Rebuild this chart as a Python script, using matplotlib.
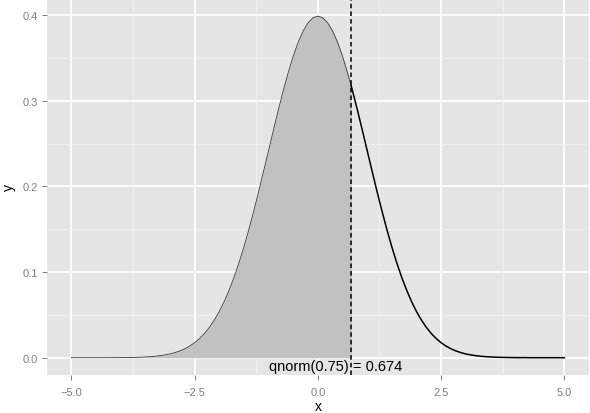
import matplotlib
matplotlib.use("Agg")
import matplotlib.pyplot as plt
import numpy as np

plt.rcParams['font.family'] = ['Liberation Sans', 'DejaVu Sans']

# density values, x from -5 to 5 in steps of 0.1
x_vals = np.round(np.linspace(-5, 5, 101), 1)
y_vals = [
    0.0000, 0.0000, 0.0000, 0.0000, 0.0000, 0.0000, 0.0000, 0.0000, 0.0001, 0.0001,
    0.0001, 0.0002, 0.0003, 0.0004, 0.0006, 0.0009, 0.0012, 0.0017, 0.0024, 0.0033,
    0.0044, 0.0060, 0.0079, 0.0104, 0.0136, 0.0175, 0.0224, 0.0283, 0.0355, 0.0440,
    0.0540, 0.0656, 0.0790, 0.0940, 0.1109, 0.1295, 0.1497, 0.1714, 0.1942, 0.2179,
    0.2420, 0.2661, 0.2897, 0.3123, 0.3332, 0.3521, 0.3683, 0.3814, 0.3910, 0.3970,
    0.3989,
    0.3970, 0.3910, 0.3814, 0.3683, 0.3521, 0.3332, 0.3123, 0.2897, 0.2661, 0.2420,
    0.2179, 0.1942, 0.1714, 0.1497, 0.1295, 0.1109, 0.0940, 0.0790, 0.0656, 0.0540,
    0.0440, 0.0355, 0.0283, 0.0224, 0.0175, 0.0136, 0.0104, 0.0079, 0.0060, 0.0044,
    0.0033, 0.0024, 0.0017, 0.0012, 0.0009, 0.0006, 0.0004, 0.0003, 0.0002, 0.0001,
    0.0001, 0.0001, 0.0000, 0.0000, 0.0000, 0.0000, 0.0000, 0.0000, 0.0000, 0.0000,
]
y_vals = np.array(y_vals)

q75 = 0.674        # qnorm(0.75)
dens_q75 = 0.318   # curve height at the cut
label = "qnorm(0.75) = 0.674"

x_ticks = [-5.0, -2.5, 0.0, 2.5, 5.0]
y_ticks = [0.0, 0.1, 0.2, 0.3, 0.4]

fig = plt.figure(figsize=(5.9, 4.14), dpi=100)
ax = fig.add_axes([0.0792, 0.0923, 0.9191, 0.9077])
ax.set_facecolor('#E5E5E5')

# shaded part up to the quantile
left = x_vals <= q75
xf = np.append(x_vals[left], q75)
yf = np.append(y_vals[left], dens_q75)
ax.fill_between(xf, 0, yf, color='#C1C1C1', lw=0, zorder=2)
ax.plot(xf, yf, color='#3A3A3A', lw=0.6, zorder=3)

# rest of the curve
right = x_vals > q75
xr = np.insert(x_vals[right], 0, q75)
yr = np.insert(y_vals[right], 0, dens_q75)
ax.plot(xr, yr, color='black', lw=1.1, zorder=3)

ax.axvline(q75, color='black', lw=1.1, ls=(0, (3, 2)), zorder=4)
ax.text(0.37, -0.0095, label, ha='center', va='center', fontsize=10.5,
        color='black', zorder=5)

ax.set_xlim(-5.5, 5.5)
ax.set_ylim(-0.01995, 0.4189)
ax.set_xticks(x_ticks)
ax.set_xticklabels(['\u22125.0', '\u22122.5', '0.0', '2.5', '5.0'])
ax.set_yticks(y_ticks)
ax.set_yticklabels(['0.0', '0.1', '0.2', '0.3', '0.4'])
ax.set_xticks([-3.75, -1.25, 1.25, 3.75], minor=True)
ax.set_yticks([0.05, 0.15, 0.25, 0.35], minor=True)

ax.grid(which='major', color='white', lw=1.3, zorder=1)
ax.grid(which='minor', color='#F2F2F2', lw=0.6, zorder=1)
ax.set_axisbelow(True)
for s in ax.spines.values():
    s.set_visible(False)
ax.tick_params(which='major', length=3.6, width=0.7, color='#7F7F7F',
               labelcolor='#7F7F7F', labelsize=8, pad=2.5)
ax.tick_params(axis='x', which='major', pad=5)
ax.tick_params(which='minor', length=0)

ax.set_xlabel('x', fontsize=10, labelpad=1.5)
ax.set_ylabel('y', fontsize=10, labelpad=5)

fig.savefig('out.png', dpi=100)
